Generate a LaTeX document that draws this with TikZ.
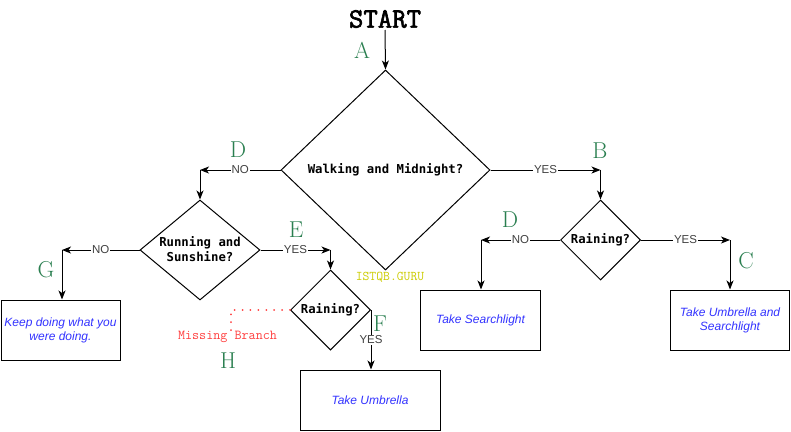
\documentclass[tikz,border=0pt]{standalone}
\usepackage{fontspec}
\setmainfont{Liberation Sans}
\newfontfamily\dmono{DejaVu Sans Mono}
\newfontfamily\lmser{Latin Modern Roman}
\newfontfamily\startfont[FakeBold=2.2]{Latin Modern Mono}
\usetikzlibrary{shapes.geometric,arrows.meta}
\definecolor{lblgreen}{HTML}{2A7F50}
\definecolor{txtblue}{HTML}{3333FF}
\definecolor{guru}{HTML}{CCCC00}
\definecolor{miss}{HTML}{FF4040}
\definecolor{edgegray}{HTML}{404040}
\tikzset{
  dec/.style={diamond, draw=black, line width=1pt, inner sep=0pt},
  dectext/.style={inner sep=0pt, align=center,
    font=\dmono\bfseries\fontsize{12.3}{15.5}\selectfont},
  actbox/.style={rectangle, draw=black, line width=1pt, inner sep=0pt, align=center,
    font=\itshape\fontsize{12}{14}\selectfont, text=txtblue},
  arr/.style={line width=1pt, -{Stealth[length=9pt,width=7pt,inset=2.5pt]}},
  elabel/.style={fill=white, inner sep=1pt, text=edgegray, font=\fontsize{11.5}{13}\selectfont},
  letter/.style={text=lblgreen, font=\lmser\fontsize{23}{25}\selectfont, inner sep=0pt},
}
\begin{document}
\begin{tikzpicture}[x=1pt,y=-1pt]
\useasboundingbox (0,0) rectangle (791,431);
\fill[white] (0,0) rectangle (791,431);

\node[font=\startfont\fontsize{28}{30}\selectfont, inner sep=0pt] (start) at (385,19) {START};
\coordinate (startb) at (385,30);

\node[dec, minimum width=209pt, minimum height=200pt] (m) at (385.5,170) {};
\node[dectext] (mt) at (m) {Walking and Midnight?};
\node[dec, minimum width=120pt, minimum height=100pt] (run) at (200,250) {};
\node[dectext] (runt) at ([yshift=1pt]run) {Running and\\Sunshine?};
\node[dec, minimum width=80pt, minimum height=80pt] (r2) at (330.5,310) {};
\node[dectext] (r2t) at (r2) {Raining?};
\node[dec, minimum width=80pt, minimum height=80pt] (r1) at (600.5,240) {};
\node[dectext] (r1t) at (r1) {Raining?};

\node[actbox, minimum width=119pt, minimum height=60pt] (keep) at (60.5,330) {Keep doing what you\\were doing.};
\node[actbox, minimum width=140pt, minimum height=60pt] (umb) at (370,400) {Take Umbrella};
\node[actbox, minimum width=119.5pt, minimum height=60pt] (search) at (480.5,320) {Take Searchlight};
\node[actbox, minimum width=119.5pt, minimum height=60pt] (both) at (730,320) {Take Umbrella and\\Searchlight};

% corner coordinates
\coordinate (c1) at (200,170);
\coordinate (c2) at (62,250);
\coordinate (c3) at (330.5,250);
\coordinate (c4) at (600.5,170);
\coordinate (c5) at (481,240);
\coordinate (c6) at (730,240);
\coordinate (m1) at (231,310);
\coordinate (m2) at (231,336);

\draw[arr] (startb) -- (m.north);

\draw[arr] (m.west) -- node[elabel]{NO} (c1);
\draw[arr] (c1) -- (run.north);

\draw[arr] (run.west) -- node[elabel]{NO} (c2);
\draw[arr] (c2) -- (c2 |- keep.north);

\draw[arr] (run.east) -- node[elabel]{YES} (c3);
\draw[arr] (c3) -- (r2.north);

\draw[arr] (r2.east) -- node[elabel]{YES} (r2.east |- umb.north);

\draw[arr] (m.east) -- node[elabel]{YES} (c4);
\draw[arr] (c4) -- (r1.north);

\draw[arr] (r1.west) -- node[elabel]{NO} (c5);
\draw[arr] (c5) -- (c5 |- search.north);

\draw[arr] (r1.east) -- node[elabel]{YES} (c6);
\draw[arr] (c6) -- (both.north);

\draw[miss, line width=2pt, dash pattern=on 0.01pt off 7.9pt, line cap=round] (r2.west) -- (m1) -- (m2);
\node[text=miss, font=\ttfamily\fontsize{13.7}{15}\selectfont, inner sep=0pt] (missing) at (227.5,337) {Missing\hspace{0.525em}Branch};

\node[text=guru, font=\ttfamily\fontsize{13.3}{15}\selectfont, inner sep=0pt] (guru) at (390,277) {ISTQB.GURU};

\node[letter] (la) at (362,50) {A};
\node[letter] (lb) at (600,151) {B};
\node[letter] (lc) at (746,261) {C};
\node[letter] (ld1) at (238,150) {D};
\node[letter] (ld2) at (510,220) {D};
\node[letter] (le) at (296,230) {E};
\node[letter] (lf) at (380,324) {F};
\node[letter] (lg) at (46,270) {G};
\node[letter] (lh) at (228,361) {H};
\end{tikzpicture}
\end{document}
